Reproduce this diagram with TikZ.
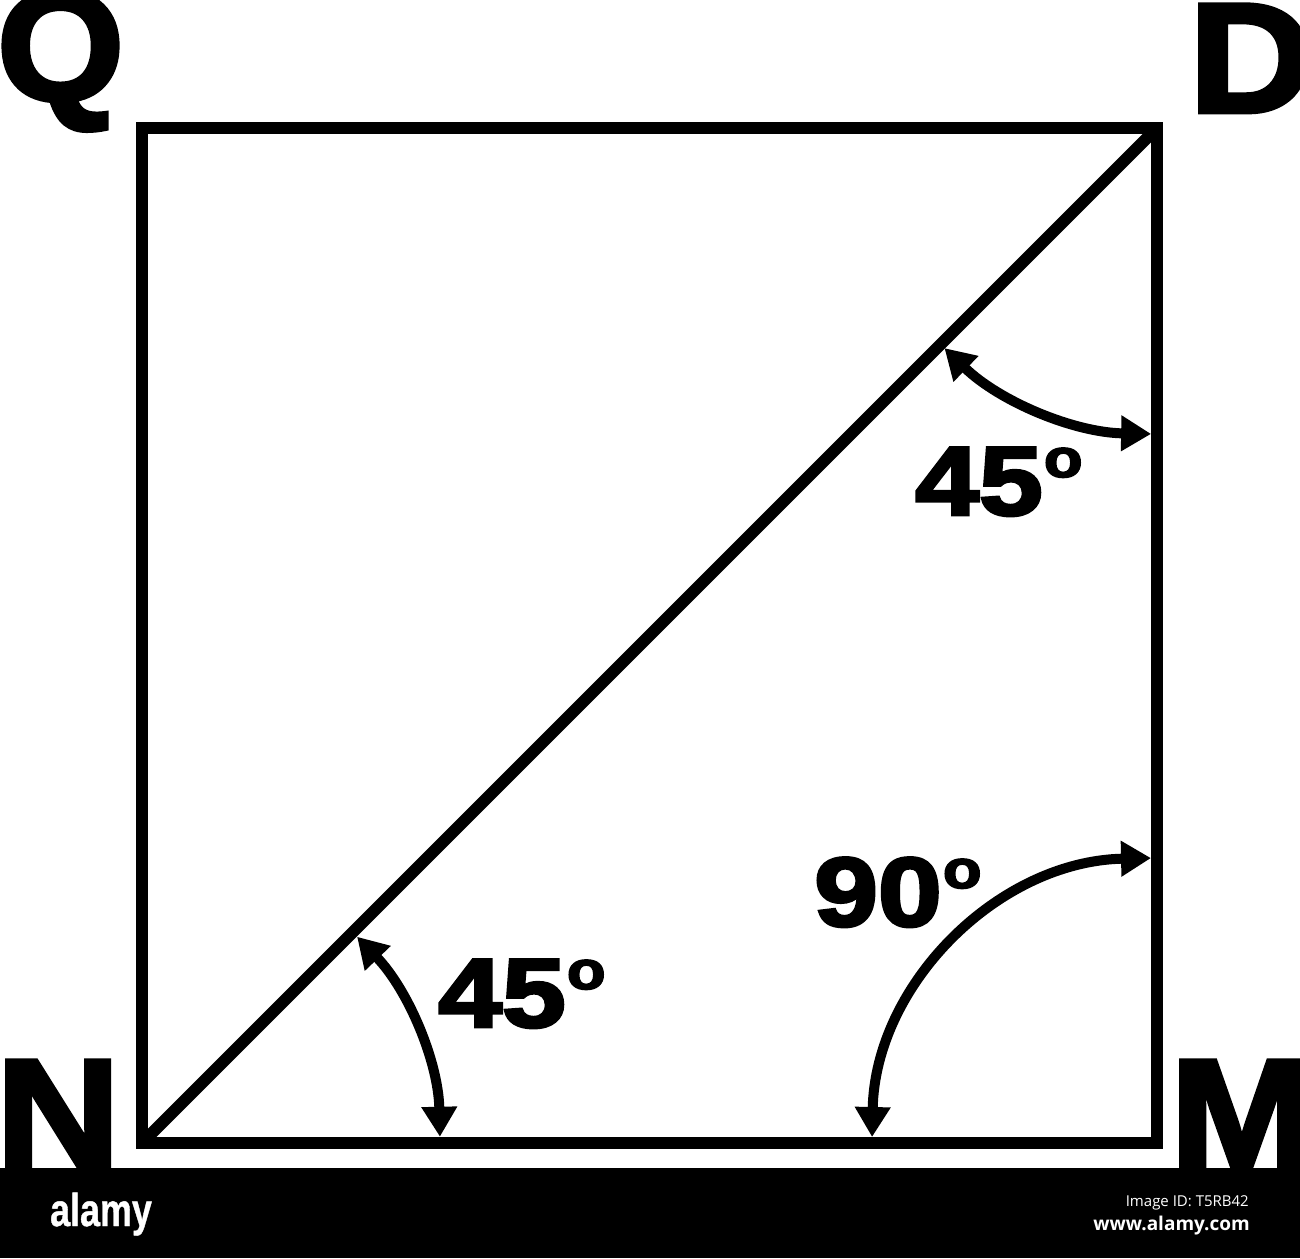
\documentclass[tikz,border=0pt]{standalone}
\usepackage{fontspec}
\usetikzlibrary{arrows.meta}
\newfontfamily\heavy[FakeBold=3]{Liberation Sans Bold}
\newfontfamily\wmheavy[FakeBold=1]{Liberation Sans Bold}
\newfontfamily\wmfont{Open Sans}
\newfontfamily\wmbold{Open Sans Bold}
\newcommand{\degtext}[1]{{\fontsize{98}{98}\selectfont #1\kern1pt\raisebox{38pt}{\fontsize{54}{54}\selectfont o}}}
\tikzset{
  edge/.style={line width=12pt, line join=miter},
  anglearc/.style={line width=10pt, {Triangle[length=30pt,width=34pt]}-{Triangle[length=30pt,width=34pt]}},
  corner/.style={inner sep=0pt, anchor=base west, xscale=1.1, font=\heavy\fontsize{156}{156}\selectfont},
  anglelabel/.style={inner sep=0pt, anchor=base west, xscale=1.17, font=\heavy},
}
\begin{document}
\begin{tikzpicture}[x=1pt,y=1pt]
\useasboundingbox (0,0) rectangle (1300,1258);
\fill[black] (0,0) rectangle (1300,90);
\coordinate (N) at (142,115);
\coordinate (M) at (1157,115);
\coordinate (D) at (1157,1130);
\coordinate (Q) at (142,1130);
\draw[edge] (N) -- (M) -- (D) -- (Q) -- cycle;
\draw[edge] (N) -- (D);
% angle arcs
\draw[anglearc] ([shift={(1.2:298)}]N) arc[start angle=1.2, end angle=43.8, radius=298];
\draw[anglearc] ([shift={(226:306)}]D) arc[start angle=226, end angle=268.9, radius=306];
\draw[anglearc] ([shift={(91.2:285)}]M) arc[start angle=91.2, end angle=178.8, radius=285];
% corner letters
\node[corner, xscale=0.95] (lq) at (-3,1158) {Q};
\node[corner] (ld) at (1189,1146) {D};
\node[corner] (ln) at (-4,90) {N};
\node[corner] (lm) at (1170,90) {M};
% angle labels
\node[anglelabel] (a1) at (438,231) {\degtext{45}};
\node[anglelabel] (a2) at (915,743) {\degtext{45}};
\node[anglelabel] (a3) at (814,332) {\degtext{90}};
% band texts
\node[inner sep=0pt, anchor=base west, text=white, font=\wmheavy\fontsize{46}{46}\selectfont, xscale=0.78] (wm1) at (50,32) {alamy};
\node[inner sep=0pt, anchor=base east, text=white, font=\wmfont\fontsize{15}{15}\selectfont] (wm2) at (1249,52) {Image ID: T5RB42};
\node[inner sep=0pt, anchor=base east, text=white, font=\wmbold\fontsize{19}{19}\selectfont] (wm3) at (1250,28) {www.alamy.com};
\end{tikzpicture}
\end{document}
